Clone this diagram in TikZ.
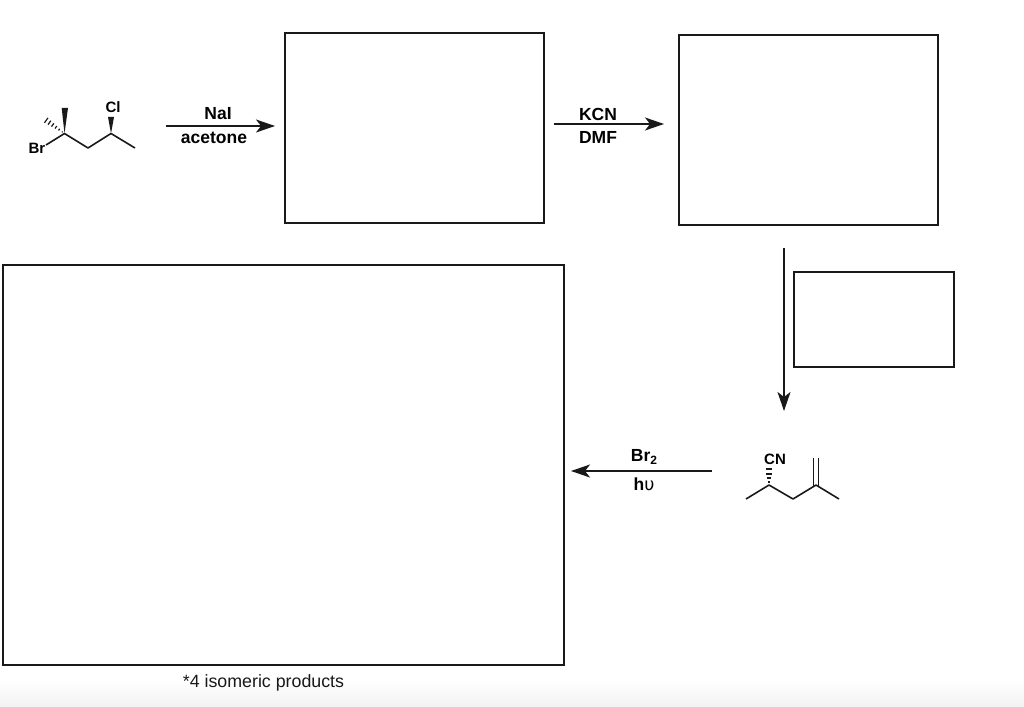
\documentclass[tikz,border=0pt]{standalone}
\usepackage{fontspec}
\setmainfont{Liberation Sans}
\newfontfamily\upsfont{DejaVu Sans}
\usetikzlibrary{arrows.meta,calc}
\tikzset{
  x=1pt,y=-1pt,
  box/.style={draw=black!90,line width=1.5pt},
  rxn/.style={line width=1.5pt,draw=black!90,-{Stealth[length=19pt,width=13pt,inset=5pt]}},
  bond/.style={line width=1.6pt,draw=black!90},
  reag/.style={inner sep=0pt,font=\fontsize{17.5}{20}\selectfont\bfseries,text=black},
  atom/.style={inner sep=0pt,font=\fontsize{15}{17}\selectfont\bfseries,text=black},
  note/.style={inner sep=0pt,font=\fontsize{17.8}{20}\selectfont,text=black!90},
  wedge/.style={fill=black!90,draw=none},
  hash/.style={line width=1.5pt,draw=black!90},
}
\begin{document}
\begin{tikzpicture}
\useasboundingbox (0,0) rectangle (1024,706);
\fill[white] (0,0) rectangle (1024,706);
\shade[top color=white,bottom color=black!5,draw=none] (0,680) rectangle (1024,706);
% boxes
\node[box,minimum width=259pt,minimum height=190pt,inner sep=0pt] (b1) at (414.5,128) {};
\node[box,minimum width=259pt,minimum height=190pt,inner sep=0pt] (b2) at (808.5,130) {};
\node[box,minimum width=160pt,minimum height=95pt,inner sep=0pt] (b3) at (874,319.5) {};
\node[box,minimum width=561pt,minimum height=400pt,inner sep=0pt] (b4) at (283.5,465) {};
% arrows
\coordinate (a1s) at (166,126); \coordinate (a1e) at (275,126);
\coordinate (a2s) at (554,124); \coordinate (a2e) at (664,124);
\coordinate (a3s) at (784,248); \coordinate (a3e) at (784,411);
\coordinate (a4s) at (712,471); \coordinate (a4e) at (571,471);
\draw[rxn] (a1s) -- (a1e);
\draw[rxn] (a2s) -- (a2e);
\draw[rxn] (a3s) -- (a3e);
\draw[rxn] (a4s) -- (a4e);
% reagents
\node[reag] (t1) at (218,114) {NaI};
\node[reag] (t2) at (214,138) {acetone};
\node[reag] (t3) at (598,114) {KCN};
\node[reag] (t4) at (598,137) {DMF};
\node[reag] (t5) at (644,457) {Br\raisebox{-3pt}{\fontsize{12}{14}\selectfont 2}};
\node[reag] (t6) at (644,484) {h{\upsfont\fontseries{m}\selectfont υ}};
\node[note] (t7) at (263.5,683) {*4 isomeric products};
% left molecule
\node[atom] (br) at (37,148) {Br};
\node[atom] (cl) at (113,107) {Cl};
\coordinate (l1) at (64.5,133.5);
\coordinate (l2) at (88,148);
\coordinate (l3) at (111,133.5);
\coordinate (l4) at (135,148);
\coordinate (lm) at (65,108);
\coordinate (lh) at (43,118);
\draw[bond,line join=round] (46,145) -- (l1) -- (l2) -- (l3) -- (l4);
\fill[wedge] (l1) -- (61.7,108) -- (68,108) -- cycle;
\fill[wedge] (l3) -- (108,117) -- (114,117) -- cycle;
\foreach \t/\w in {0.1/0.5,0.25/1,0.4/1.5,0.55/2,0.7/2.5,0.85/3}{
  \draw[hash,line width=1.2pt] ($(l1)!\t!(lh)+(\w*0.58,-\w*0.81)$) -- ($(l1)!\t!(lh)+(-\w*0.58,\w*0.81)$);
}
% product
\node[atom] (cn) at (775,459) {CN};
\coordinate (p1) at (746,499);
\coordinate (p2) at (769,485);
\coordinate (p3) at (793,499);
\coordinate (p4) at (816,485);
\coordinate (p5) at (839,499);
\draw[bond,line join=round] (p1) -- (p2) -- (p3) -- (p4) -- (p5);
\draw[bond] (813.5,486) -- (813.5,458);
\draw[bond] (818.5,486) -- (818.5,458);
\foreach \y/\w in {482/1.2,478/2,474/2.6,469/3.4}{
  \draw[hash] (769-\w,\y) -- (769+\w,\y);
}
\end{tikzpicture}
\end{document}
